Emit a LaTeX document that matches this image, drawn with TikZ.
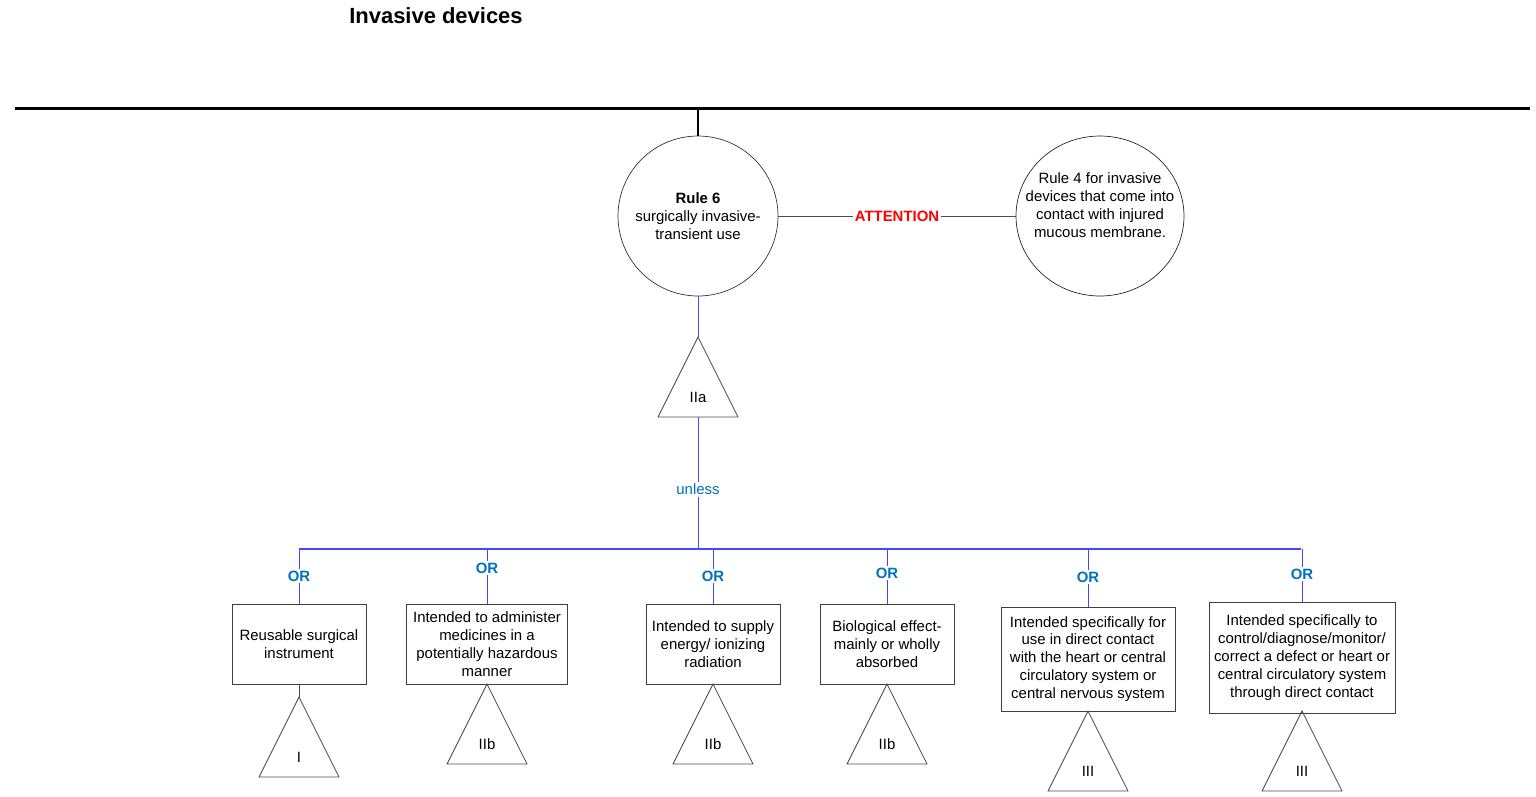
\documentclass[tikz,border=0pt]{standalone}
\usepackage{fontspec}
\setmainfont{Liberation Sans}
\usetikzlibrary{shapes.geometric}
\definecolor{linkblue}{RGB}{70,70,255}
\definecolor{orblue}{RGB}{0,112,192}
\tikzset{
  rtext/.style={font=\fontsize{8.5}{10.2}\selectfont, align=center},
  critbox/.style={draw=black!75, rectangle, rtext, inner sep=1pt},
  orlab/.style={font=\fontsize{8.5}{10}\selectfont\bfseries, text=orblue, fill=white, inner sep=1pt},
  blueline/.style={draw=linkblue, line width=0.5pt},
  triline/.style={draw=black!70, line width=0.5pt}
}
% class triangle: name, x, apex y, class
\newcommand{\classtri}[4]{%
  \coordinate (#1) at (#2,#3);
  \coordinate (#1-base) at (#2,#3+80);
  \draw[triline] (#1) -- ++(-40,80) -- ++(80,0) -- cycle;
  \node[rtext] (#1-lab) at (#2,#3+60) {#4};
}
\begin{document}
\begin{tikzpicture}[x=0.02cm,y=-0.02cm]
\useasboundingbox (0,0) rectangle (1536,796);
\node[font=\fontsize{12.5}{15}\selectfont\bfseries] (title) at (436,16) {Invasive devices};
% top rail
\coordinate (railL) at (15,108);
\coordinate (railR) at (1530,108);
\draw[line width=1.7pt] (railL) -- (railR);
\node[circle, draw=black!80, minimum size=3.2cm, inner sep=0pt, rtext] (rule6) at (698,216) {\textbf{Rule 6}\\surgically invasive-\\transient use};
\draw[line width=1.7pt] (rule6.north |- railL) -- (rule6.north);
\node[ellipse, draw=black!85, minimum width=3.36cm, minimum height=3.2cm, inner sep=0pt,
  label={[rtext,yshift=0.21cm]center:{Rule 4 for invasive\\devices that come into\\contact with injured\\mucous membrane.}}] (rule4) at (1100,216) {};
\draw[draw=black!70, line width=0.5pt] (rule6.east) -- node[font=\fontsize{8.5}{10}\selectfont\bfseries, text=red, fill=white, inner sep=1pt] (attn) {ATTENTION} (rule4.west);
% class IIa and the unless bus
\classtri{t0}{698}{337}{IIa}
\draw[blueline] (rule6.south) -- (t0);
\coordinate (busL) at (299,549);
\coordinate (busR) at (1301,549);
\draw[blueline, line width=0.9pt] (busL) -- (busR);
\draw[blueline] (t0-base) -- node[pos=0.55, font=\fontsize{8.5}{10}\selectfont, text=orblue, fill=white, inner sep=1pt] (unless) {unless} (t0-base |- busL);
% criteria
\node[critbox, minimum width=2.68cm, minimum height=1.6cm] (c1) at (299,644) {Reusable surgical\\instrument};
\node[critbox, minimum width=3.22cm, minimum height=1.6cm] (c2) at (487,644) {Intended to administer\\medicines in a\\potentially hazardous\\manner};
\node[critbox, minimum width=2.68cm, minimum height=1.6cm] (c3) at (713,644) {Intended to supply\\energy/ ionizing\\radiation};
\node[critbox, minimum width=2.68cm, minimum height=1.6cm] (c4) at (887,644) {Biological effect-\\mainly or wholly\\absorbed};
\node[critbox, minimum width=3.48cm, minimum height=2.08cm] (c5) at (1088,659) {Intended specifically for\\use in direct contact\\with the heart or central\\circulatory system or\\central nervous system};
\node[critbox, minimum width=3.72cm, minimum height=2.22cm] (c6) at (1302,657.5) {Intended specifically to\\control/diagnose/monitor/\\correct a defect or heart or\\central circulatory system\\through direct contact};
\foreach \i/\oy in {1/576,2/568,3/576,4/573,5/577,6/574} {
  \draw[blueline] (c\i.north |- busL) -- (c\i.north);
  \node[orlab] (or\i) at (c\i.north |- 0,\oy) {OR};
}
% classes
\foreach \i/\x/\ay/\cls in {1/299/697/I, 2/487/684/IIb, 3/713/684/IIb, 4/887/684/IIb, 5/1088/711/III, 6/1302/711/III} {
  \classtri{t\i}{\x}{\ay}{\cls}
  \draw[triline] (c\i.south) -- (t\i);
}
\end{tikzpicture}
\end{document}
